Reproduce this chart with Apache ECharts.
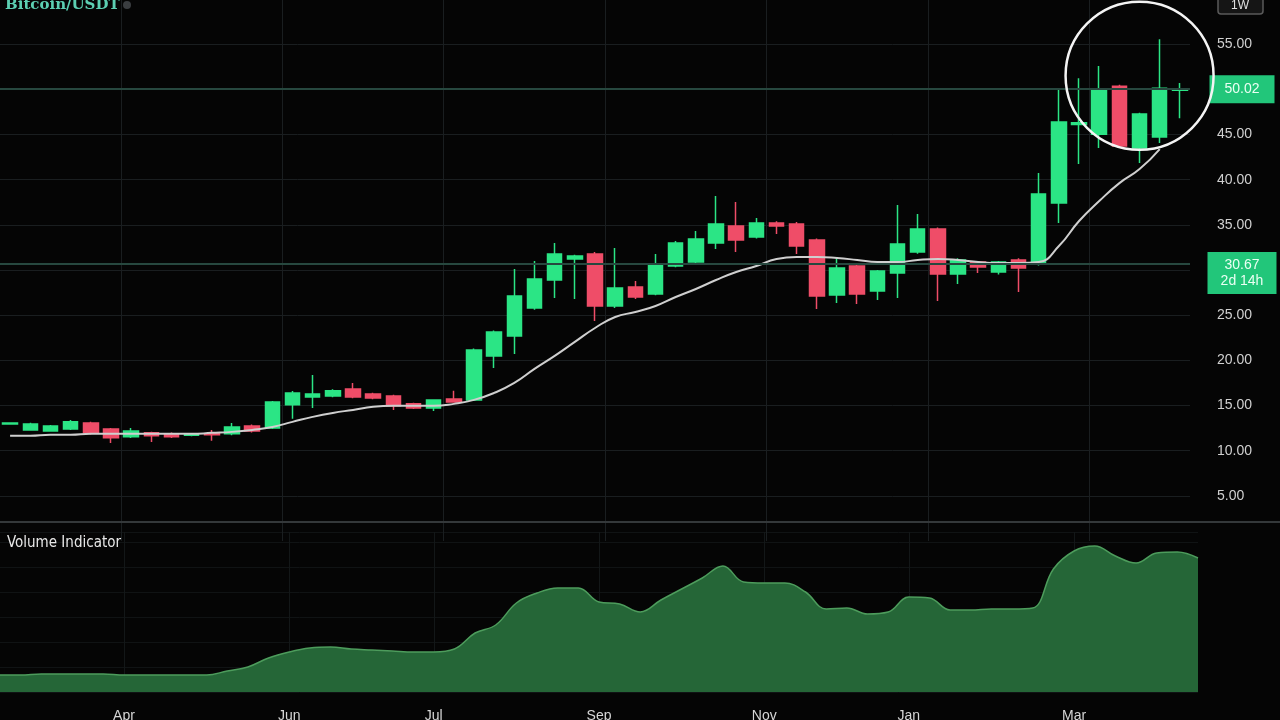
<!DOCTYPE html>
<html>
<head>
<meta charset="utf-8">
<title>BTC/USDT weekly</title>
<script src="https://cdn.jsdelivr.net/npm/echarts@6/dist/echarts.min.js"></script>
<style>
  html, body { margin: 0; padding: 0; background: #050505; }
  #chart { width: 1280px; height: 720px; }
</style>
</head>
<body>
<div id="chart"></div>
<script>
// weekly candles
const dates = [
  '2023-03-06', '2023-03-13', '2023-03-20', '2023-03-27', '2023-04-03', '2023-04-10', '2023-04-17', '2023-04-24',
  '2023-05-01', '2023-05-08', '2023-05-15', '2023-05-22', '2023-05-29', '2023-06-05', '2023-06-12', '2023-06-19',
  '2023-06-26', '2023-07-03', '2023-07-10', '2023-07-17', '2023-07-24', '2023-07-31', '2023-08-07', '2023-08-14',
  '2023-08-21', '2023-08-28', '2023-09-04', '2023-09-11', '2023-09-18', '2023-09-25', '2023-10-02', '2023-10-09',
  '2023-10-16', '2023-10-23', '2023-10-30', '2023-11-06', '2023-11-13', '2023-11-20', '2023-11-27', '2023-12-04',
  '2023-12-11', '2023-12-18', '2023-12-25', '2024-01-01', '2024-01-08', '2024-01-15', '2024-01-22', '2024-01-29',
  '2024-02-05', '2024-02-12', '2024-02-19', '2024-02-26', '2024-03-04', '2024-03-11', '2024-03-18', '2024-03-25',
  '2024-04-01', '2024-04-08', '2024-04-15'
];

// [open, close, low, high]
const ohlc = [
  [12.95, 13.05, 12.90, 13.10], [12.30, 12.96, 12.20, 13.10], [12.19, 12.74, 12.10, 12.85], [12.41, 13.19, 12.30, 13.40],
  [13.07, 11.97, 11.80, 13.20], [12.41, 11.42, 10.86, 12.50], [11.53, 12.19, 11.40, 12.50], [11.97, 11.64, 10.97, 12.10],
  [11.86, 11.53, 11.40, 12.00], [11.70, 11.78, 11.60, 11.90], [11.86, 11.75, 11.10, 12.30], [11.86, 12.63, 11.70, 13.07],
  [12.74, 12.19, 12.00, 12.90], [12.52, 15.40, 12.40, 15.50], [15.07, 16.39, 13.52, 16.60], [15.95, 16.28, 14.73, 18.38],
  [16.06, 16.62, 15.90, 16.80], [16.84, 15.95, 15.80, 17.50], [16.28, 15.84, 15.70, 16.40], [16.06, 14.96, 14.51, 16.20],
  [15.18, 14.73, 14.60, 15.30], [14.73, 15.62, 14.40, 15.70], [15.73, 15.40, 15.30, 16.62], [15.62, 21.15, 15.50, 21.30],
  [20.49, 23.14, 19.16, 23.30], [22.70, 27.13, 20.71, 30.11], [25.80, 29.00, 25.60, 31.00], [28.89, 31.77, 26.90, 32.99],
  [31.22, 31.55, 26.80, 31.70], [31.77, 26.02, 24.36, 32.00], [26.02, 28.01, 25.80, 32.43], [28.12, 27.01, 26.80, 28.78],
  [27.35, 30.67, 27.20, 31.77], [30.44, 32.99, 30.30, 33.20], [30.88, 33.43, 30.70, 34.31], [32.99, 35.09, 32.32, 38.19],
  [34.87, 33.32, 31.99, 37.52], [33.65, 35.20, 33.50, 35.75], [35.20, 34.87, 33.98, 35.40], [35.09, 32.65, 31.77, 35.30],
  [33.32, 27.13, 25.69, 33.50], [27.24, 30.22, 26.35, 31.44], [30.44, 27.35, 26.24, 30.60], [27.68, 29.89, 26.68, 30.00],
  [29.67, 32.88, 26.90, 37.19], [31.99, 34.54, 31.80, 36.20], [34.54, 29.56, 26.57, 34.70], [29.56, 31.11, 28.45, 31.30],
  [30.88, 30.33, 29.67, 31.00], [29.78, 30.88, 29.50, 31.00], [31.11, 30.22, 27.57, 31.30], [30.77, 38.41, 30.50, 40.73],
  [37.41, 46.37, 35.20, 50.13], [46.10, 46.30, 41.73, 51.24], [45.04, 50.02, 43.50, 52.57], [50.35, 43.72, 43.50, 50.50],
  [43.50, 47.26, 41.84, 47.40], [44.71, 50.13, 44.05, 55.55], [49.90, 50.02, 46.81, 50.69]
];

// moving average
const ma = [
  11.64, 11.64, 11.75, 11.75, 11.86, 11.86, 11.86, 11.86, 11.86, 11.86, 11.97, 12.08, 12.30, 12.63, 13.19, 13.74,
  14.18, 14.51, 14.85, 14.96, 14.96, 14.96, 15.18, 15.62, 16.39, 17.50, 19.05, 20.49, 22.04, 23.58, 24.80, 25.35,
  26.02, 27.01, 27.90, 28.89, 29.78, 30.44, 31.22, 31.44, 31.44, 31.33, 31.11, 30.88, 30.88, 31.11, 31.22, 31.11,
  30.88, 30.77, 30.77, 30.88, 32.65, 35.42, 37.63, 39.62, 41.17, 43.39, '-'
];

// volume (M)
const volume = [
  1.7, 1.7, 1.8, 1.8, 1.8, 1.8, 1.7, 1.7, 1.7, 1.7, 1.7, 2.1, 2.5, 3.4, 4.0, 4.4,
  4.5, 4.3, 4.2, 4.1, 4.0, 4.0, 4.3, 5.9, 6.7, 8.9, 9.9, 10.4, 10.4, 9.0, 8.8, 8.0,
  9.2, 10.3, 11.4, 12.6, 11.0, 10.9, 10.9, 10.0, 8.3, 8.4, 7.8, 8.0, 9.5, 9.4, 8.2, 8.2,
  8.3, 8.3, 8.4, 12.3, 14.1, 14.6, 13.6, 12.9, 13.9, 14.0, 13.4
];

const lastPrice = 50.02;
const supportPrice = 30.67;
const labelTicks = [6, 14, 21, 29, 37, 44, 52];
const gridTicks = [6, 14, 22, 30, 38, 46, 54];
const monthNames = ['Jan', 'Feb', 'Mar', 'Apr', 'May', 'Jun', 'Jul', 'Aug', 'Sep', 'Oct', 'Nov', 'Dec'];

const UP = '#2be585';
const DOWN = '#ef4d68';
const GRIDLINE = '#1a1e20';

const chart = echarts.init(document.getElementById('chart'));

const option = {
  backgroundColor: '#050505',
  animation: false,
  title: [
    {
      text: 'Bitcoin/USDT', left: 0, top: -7,
      textStyle: { color: '#5ccfb2', fontSize: 15, fontWeight: 'bold', fontFamily: 'DejaVu Serif' }
    },
    {
      text: 'Volume Indicator', left: 2, top: 531,
      textStyle: { color: '#e8e8e8', fontSize: 15, fontWeight: 'normal', fontFamily: 'DejaVu Sans Condensed, DejaVu Sans' }
    }
  ],
  // outerBoundsMode 'none': keep the panels exactly where they are, labels may run off the canvas
  grid: [
    { left: 0, top: -1, width: 1190, height: 542, outerBoundsMode: 'none' },
    { left: 0, top: 532, width: 1198, height: 160, outerBoundsMode: 'none' }
  ],
  xAxis: [
    {
      type: 'category', gridIndex: 0, data: dates, boundaryGap: true,
      axisLine: { show: false }, axisTick: { show: false }, axisLabel: { show: false },
      splitLine: {
        show: true, showMaxLine: false,
        interval: (i) => gridTicks.includes(i), lineStyle: { color: GRIDLINE }
      }
    },
    {
      type: 'category', gridIndex: 1, data: dates, boundaryGap: false,
      axisLine: { show: false }, axisTick: { show: false },
      axisLabel: {
        interval: (i) => labelTicks.includes(i),
        formatter: (v) => monthNames[parseInt(v.slice(5, 7), 10) - 1],
        color: '#d6d6d6', fontSize: 14, margin: 17
      },
      splitLine: { show: true, interval: (i) => labelTicks.includes(i), lineStyle: { color: '#131718' } }
    }
  ],
  yAxis: [
    {
      type: 'value', gridIndex: 0, position: 'right', min: 0, max: 60, interval: 5,
      axisLine: { show: false }, axisTick: { show: false },
      axisLabel: {
        color: '#d0d0d0', fontSize: 14, margin: 27,
        showMinLabel: false, showMaxLabel: false,
        formatter: (v) => v.toFixed(2)
      },
      splitLine: { show: true, showMinLine: false, showMaxLine: false, lineStyle: { color: GRIDLINE } }
    },
    {
      type: 'value', gridIndex: 1, min: 0, max: 16, interval: 2.5,
      axisLine: { show: false }, axisTick: { show: false }, axisLabel: { show: false },
      splitLine: { show: true, lineStyle: { color: '#101314' } }
    }
  ],
  series: [
    {
      name: 'BTC', type: 'candlestick', xAxisIndex: 0, yAxisIndex: 0,
      data: ohlc, barWidth: 15,
      itemStyle: { color: UP, color0: DOWN, borderColor: UP, borderColor0: DOWN, borderWidth: 1.5 },
      markLine: {
        silent: true, symbol: ['none', 'none'],
        lineStyle: { color: '#27483f', width: 2, type: 'solid' },
        label: {
          show: true, position: 'end', distance: 52,
          backgroundColor: '#22c67a', color: '#eafff3', fontSize: 14,
          padding: [7, 7], width: 51, align: 'center'
        },
        data: [
          { yAxis: lastPrice, label: { formatter: lastPrice.toFixed(2) } },
          {
            yAxis: supportPrice,
            label: {
              formatter: supportPrice.toFixed(2) + '\n2d 14h', lineHeight: 16,
              padding: [5, 9], offset: [0, 9]
            }
          }
        ]
      }
    },
    {
      name: 'MA', type: 'line', xAxisIndex: 0, yAxisIndex: 0,
      data: ma, smooth: true, showSymbol: false, symbol: 'none',
      lineStyle: { color: '#cfcfcf', width: 2 }
    },
    {
      name: 'Volume', type: 'line', xAxisIndex: 1, yAxisIndex: 1,
      data: volume, smooth: 0.4, showSymbol: false, symbol: 'none',
      lineStyle: { color: '#4d9c5c', width: 1.5 },
      areaStyle: { color: '#256637', opacity: 1 }
    }
  ]
};

chart.setOption(option);

// annotation circle around the latest candles, placed in data space
const [cx, cy] = chart.convertToPixel({ xAxisIndex: 0, yAxisIndex: 0 }, [dates[56], 51.5]);

chart.setOption({
  graphic: [
    { type: 'line', shape: { x1: 0, y1: 522, x2: 1280, y2: 522 }, style: { stroke: '#34383a', lineWidth: 2 } },
    { type: 'circle', shape: { cx: 127, cy: 5, r: 4 }, style: { fill: '#3a3d40' } },
    {
      type: 'group', children: [
        { type: 'rect', shape: { x: 1218, y: -6, width: 45, height: 20, r: 3 }, style: { fill: '#151515', stroke: '#5a5a5a', lineWidth: 1.5 } },
        { type: 'text', style: { text: '1W', x: 1240, y: 6, align: 'center', verticalAlign: 'middle', fill: '#e0e0e0', font: '12px sans-serif' } }
      ]
    },
    { type: 'circle', z: 100, shape: { cx: cx, cy: cy, r: 74 }, style: { fill: 'none', stroke: '#f4f4f4', lineWidth: 2.5 } }
  ]
});
</script>
</body>
</html>
